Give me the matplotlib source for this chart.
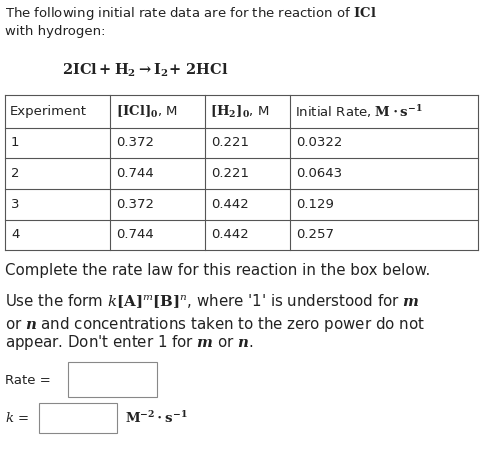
import matplotlib
matplotlib.use("Agg")
import matplotlib.pyplot as plt
from matplotlib.patches import Rectangle

experiments = ["1", "2", "3", "4"]
icl = ["0.372", "0.744", "0.372", "0.744"]
h2 = ["0.221", "0.221", "0.442", "0.442"]
rates = ["0.0322", "0.0643", "0.129", "0.257"]

plt.rcParams['mathtext.fontset'] = 'dejavuserif'
fig = plt.figure(figsize=(4.83, 4.51), dpi=100)
ax = fig.add_axes([0, 0, 1, 1])
ax.set_xlim(0, 483); ax.set_ylim(451, 0); ax.axis('off')
fs = 9.5
def t(x, y, s, **kw):
    ax.text(x, y, s, fontsize=kw.pop('fs', fs), va='center', ha='left', color='#222222', **kw)

t(5, 13, "The following initial rate data are for the reaction of $\\mathbf{ICl}$")
t(5, 32, "with hydrogen:")
t(62, 70, "$\\mathbf{2ICl + H_2 \\rightarrow I_2\\!+\\,2HCl}$", fs=10.5)

cols = [5, 110, 205, 290, 478]
rows = [95, 128, 158, 189, 220, 250]
for x in cols:
    ax.plot([x, x], [rows[0], rows[-1]], color='#555555', lw=0.8)
for y in rows:
    ax.plot([cols[0], cols[-1]], [y, y], color='#555555', lw=0.8)
hy = (rows[0] + rows[1]) / 2
t(10, hy, "Experiment")
t(116, hy, "$\\mathbf{[ICl]_0}$, M")
t(210, hy, "$\\mathbf{[H_2]_0}$, M")
t(295, hy, "Initial Rate, $\\mathbf{M\\cdot s^{-1}}$")
for i in range(4):
    y = (rows[i + 1] + rows[i + 2]) / 2
    for j, v in enumerate([experiments[i], icl[i], h2[i], rates[i]]):
        t(cols[j] + 6, y, v)

f2 = 10.8
t(5, 271, "Complete the rate law for this reaction in the box below.", fs=f2)
t(5, 301, "Use the form $k\\mathbf{[A]}^m\\mathbf{[B]}^n$, where '1' is understood for $\\boldsymbol{m}$", fs=f2)
t(5, 324, "or $\\boldsymbol{n}$ and concentrations taken to the zero power do not", fs=f2)
t(5, 343, "appear. Don't enter 1 for $\\boldsymbol{m}$ or $\\boldsymbol{n}$.", fs=f2)
t(5, 380, "Rate =")
ax.add_patch(Rectangle((68, 362), 89, 35, fill=False, ec='#888888', lw=0.8))
t(5, 418, "$k$ =")
ax.add_patch(Rectangle((39, 403), 78, 30, fill=False, ec='#888888', lw=0.8))
t(125, 418, "$\\mathbf{M^{-2}\\cdot s^{-1}}$")
fig.savefig("out.png", dpi=100)
